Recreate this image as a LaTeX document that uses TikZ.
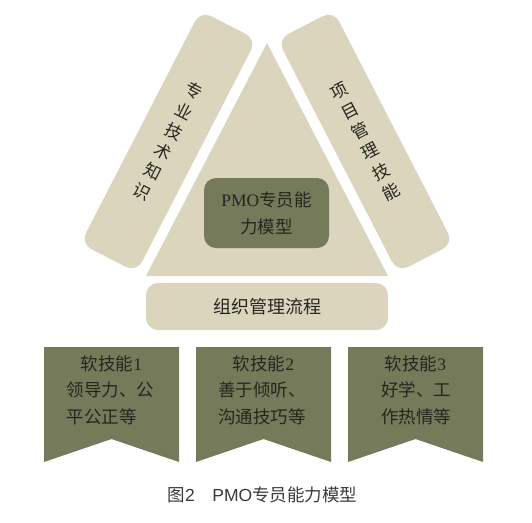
\documentclass[tikz,border=0pt]{standalone}
\usepackage{fontspec}
\setmainfont{Liberation Serif}
\newfontfamily\cjk{Noto Sans CJK SC}
\newfontfamily\capsans{Liberation Sans}
\definecolor{beige}{HTML}{DAD5BC}
\definecolor{olive}{HTML}{747A5A}
\definecolor{ink}{HTML}{26261F}
\definecolor{capgray}{HTML}{3A3A3A}
\begin{document}
\begin{tikzpicture}[x=1pt,y=-1pt,
  band/.style={fill=beige, rounded corners=12pt, minimum width=63pt, minimum height=262pt,
    inner sep=0pt, text=ink, align=center, font=\fontsize{17}{22.7}\selectfont\cjk},
  core/.style={fill=olive, rounded corners=12pt, minimum width=125pt, minimum height=70pt,
    inner sep=0pt, text=ink, align=center, font=\fontsize{17.5}{27}\selectfont},
  basebox/.style={fill=beige, rounded corners=12pt, minimum width=242pt, minimum height=47pt,
    inner sep=0pt, text=ink, font=\fontsize{18}{18}\selectfont\cjk},
  flagfill/.style={fill=olive},
  flagtitle/.style={inner sep=0pt, text=ink, font=\fontsize{17.5}{26.5}\selectfont},
  flagbody/.style={inner sep=0pt, text=ink, align=left, font=\fontsize{17.5}{26.5}\selectfont\cjk},
  caption/.style={inner sep=0pt, text=capgray, font=\fontsize{17.5}{17.5}\selectfont}
]
\useasboundingbox (0,0) rectangle (532,522);
% triangle
\fill[beige] (267,43) coordinate (apex) -- (146,276) coordinate (bl) -- (388,276) coordinate (br) -- cycle;
% side bands
\node[band, rotate=-27.25] (left) at (168.5,141.5) {专\\业\\技\\术\\知\\识};
\node[band, rotate=27.25] (right) at (365.5,141.5) {项\\目\\管\\理\\技\\能};
% core
\node[core] (core) at (266.5,213) {PMO{\cjk 专员能}\\{\cjk 力模型}};
% base box
\node[basebox] (base) at (267,306.5) {组织管理流程};
% flags
\fill[flagfill] (44,347) -- (179,347) -- (179,462) -- (111.5,439) -- (44,462) -- cycle;
\fill[flagfill] (196,347) -- (331,347) -- (331,462) -- (263.5,439) -- (196,462) -- cycle;
\fill[flagfill] (348,347) -- (483,347) -- (483,462) -- (415.5,439) -- (348,462) -- cycle;
\node[flagtitle] (t1) at (111.5,364) {{\cjk 软技能}1};
\node[flagtitle] (t2) at (263.5,364) {{\cjk 软技能}2};
\node[flagtitle] (t3) at (415.5,364) {{\cjk 软技能}3};
\node[flagbody] (b1) at (110.5,403.5) {领导力、公\\平公正等};
\node[flagbody] (b2) at (262,403.5) {善于倾听、\\沟通技巧等};
\node[flagbody] (b3) at (416,403.5) {好学、工\\作热情等};
% caption
\node[caption] (cap) at (262.5,495) {{\cjk 图}{\capsans 2}\hspace{1em}{\capsans PMO}{\cjk 专员能力模型}};
\end{tikzpicture}
\end{document}
